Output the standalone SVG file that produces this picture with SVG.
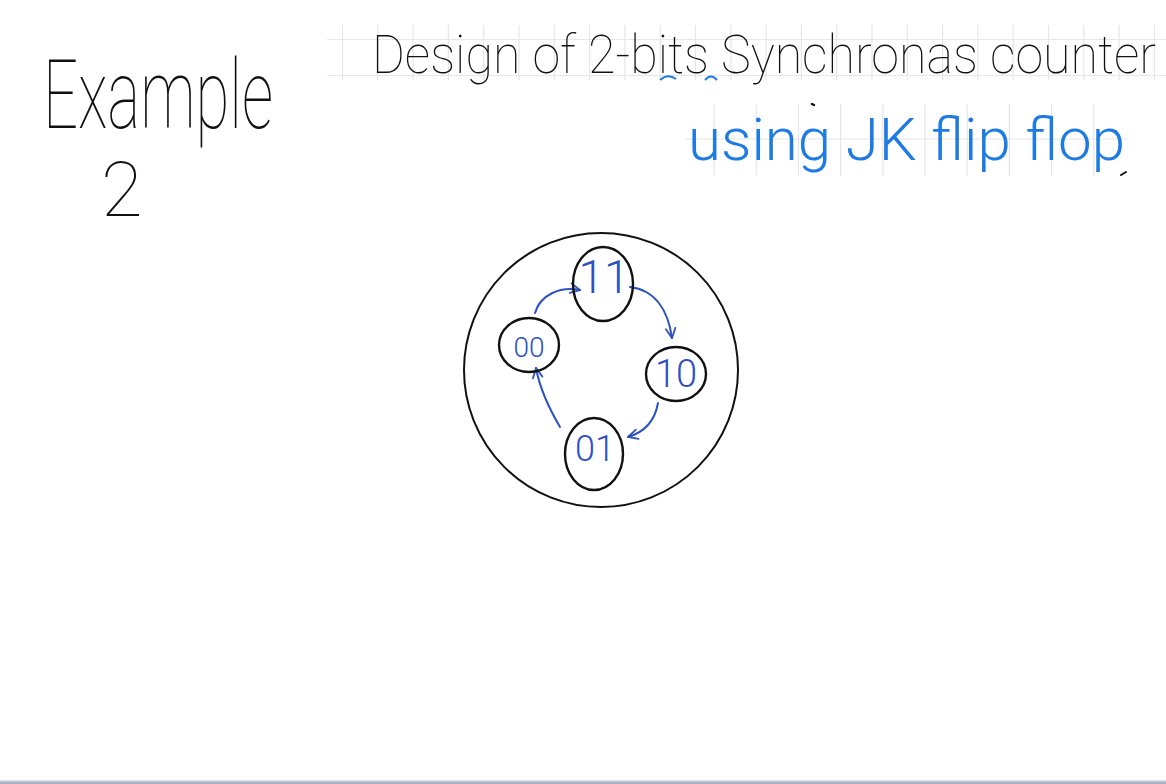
<svg xmlns="http://www.w3.org/2000/svg" width="1166" height="784" viewBox="0 0 1166 784">
<defs>
<style>
.grid{stroke:#e6e6e6;stroke-width:1.2;fill:none}
.ink{font-family:Roboto,"Liberation Sans",sans-serif;font-weight:100;fill:#111}
.blue{font-family:Roboto,"Liberation Sans",sans-serif;font-weight:300;fill:#1e7be3}
.node{fill:none;stroke:#111;stroke-width:2.4}
.lbl{font-family:Roboto,"Liberation Sans",sans-serif;font-weight:300;fill:#2c50c4;text-anchor:middle}
.edge{fill:none;stroke:#2c52c2;stroke-width:2;stroke-linecap:round}
</style>
<marker id="arr" viewBox="0 0 10 10" refX="9" refY="5" markerWidth="12" markerHeight="12" markerUnits="userSpaceOnUse" orient="auto">
<path d="M1,1 L9,5 L1,9" fill="none" stroke="#2c52c2" stroke-width="1.5" stroke-linecap="round"/>
</marker>
</defs>
<rect width="1166" height="784" fill="#fff"/>
<g id="grid-title" class="grid">
<path d="M327,39.5H1166M327,75.5H1166"/>
<path d="M342.5,25V80M377.8,25V80M413.1,25V80M448.4,25V80M483.7,25V80M519,25V80M554.3,25V80M589.6,25V80M624.9,25V80M660.2,25V80M695.5,25V80M730.8,25V80M766.1,25V80M801.4,25V80M836.7,25V80M872,25V80M907.3,25V80M942.6,25V80M977.9,25V80M1013.2,25V80M1048.5,25V80M1083.8,25V80M1119.1,25V80M1154.4,25V80"/>
</g>
<g id="grid-sub" class="grid">
<path d="M685,139H1127"/>
<path d="M714,104V176M756.2,104V176M798.4,104V176M840.6,104V176M882.8,104V176M925,104V176M967.2,104V176M1009.4,104V176M1051.6,104V176M1093.8,104V176"/>
</g>
<g id="example">
<text class="ink" x="43" y="128" font-size="96" textLength="230" lengthAdjust="spacingAndGlyphs">Example</text>
<text class="ink" x="101" y="216" font-size="76">2</text>
</g>
<g id="title">
<text class="ink" transform="translate(372,73) scale(1,1.12)" x="0" y="0" font-size="48" font-weight="300" textLength="784" lengthAdjust="spacingAndGlyphs">Design of 2-bits Synchronas counter</text>
<path d="M660,80 Q668,73 676,79 M705,80 Q711,73 717,80" fill="none" stroke="#1e7be3" stroke-width="2"/>
</g>
<g id="subtitle">
<text class="blue" x="688" y="160" font-size="60" textLength="437" lengthAdjust="spacingAndGlyphs">using JK flip flop</text>
<path d="M812,104 l2,1" stroke="#111" stroke-width="2.5" stroke-linecap="round"/>
<path d="M1121,175 l5,-3" stroke="#111" stroke-width="2" stroke-linecap="round"/>
</g>
<g id="boundary">
<circle cx="601" cy="370" r="137" fill="none" stroke="#111" stroke-width="2"/>
</g>
<g id="connectors">
<path class="edge" d="M535,313 C540,295 560,286 580,290" marker-end="url(#arr)"/>
<path class="edge" d="M630,287 C655,290 668,310 672,338" marker-end="url(#arr)"/>
<path class="edge" d="M658,403 C655,420 645,432 628,437" marker-end="url(#arr)"/>
<path class="edge" d="M560,427 C550,410 540,390 536,368" marker-end="url(#arr)"/>
</g>
<g id="node-11">
<ellipse class="node" cx="603" cy="284" rx="30" ry="37"/>
<text class="lbl" x="604" y="293" font-size="46">11</text>
</g>
<g id="node-00">
<ellipse class="node" cx="529" cy="345" rx="30" ry="27"/>
<text class="lbl" x="529" y="357" font-size="28">00</text>
</g>
<g id="node-10">
<ellipse class="node" cx="676" cy="374" rx="30" ry="27"/>
<text class="lbl" x="676" y="387" font-size="38">10</text>
</g>
<g id="node-01">
<ellipse class="node" cx="594" cy="454" rx="29" ry="36"/>
<text class="lbl" x="595" y="461" font-size="36">01</text>
</g>
<rect x="0" y="780" width="1166" height="1.5" fill="#d4deea"/>
<rect x="0" y="781.5" width="1166" height="2.5" fill="#a9b0c6"/>
</svg>
